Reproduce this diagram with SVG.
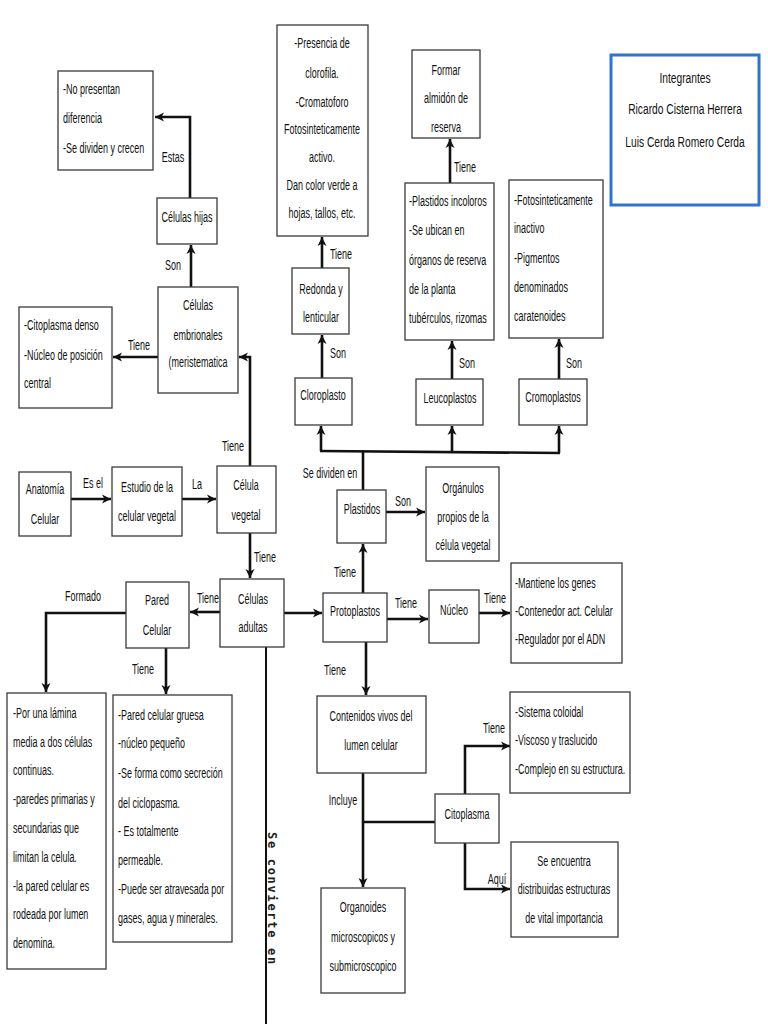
<svg xmlns="http://www.w3.org/2000/svg" width="768" height="1024" viewBox="0 0 768 1024">
<style>
.b{fill:#fff;stroke:#3a3a3a;stroke-width:1.3}
.bi{fill:#fff;stroke:#2f74d0;stroke-width:3}
.c{fill:none;stroke:#111;stroke-width:2.6}
.t{font-family:"Liberation Sans",Arial,sans-serif;font-size:14.5px;fill:#111}
.m{text-anchor:middle}
.v{font-family:"DejaVu Sans Mono","Liberation Mono",monospace;font-size:12px;font-weight:bold;letter-spacing:1.7px;fill:#222}
</style>
<defs>
<marker id="a" markerWidth="12" markerHeight="12" refX="10" refY="6" orient="auto" markerUnits="userSpaceOnUse">
<path d="M1,1.5 L10,6 L1,10.5 L3.5,6 z" fill="#111"/>
</marker>
</defs>
<rect width="768" height="1024" fill="#fff"/>

<g id="connectors">
<path class="c" d="M190,198 V117 H155" marker-end="url(#a)"/>
<path class="c" d="M191,287 V245" marker-end="url(#a)"/>
<path class="c" d="M158,357 H113" marker-end="url(#a)"/>
<path class="c" d="M250,466 V357 H239" marker-end="url(#a)"/>
<path class="c" d="M71,499 H111" marker-end="url(#a)"/>
<path class="c" d="M182,499 H216" marker-end="url(#a)"/>
<path class="c" d="M250,533 V578" marker-end="url(#a)"/>
<path class="c" d="M220,612 H190" marker-end="url(#a)"/>
<path class="c" d="M284,613 H322" marker-end="url(#a)"/>
<path class="c" d="M126,613 H46 V692" marker-end="url(#a)"/>
<path class="c" d="M166,648 V694" marker-end="url(#a)"/>
<path class="c" d="M266,647 V1024" style="stroke-width:2"/>
<path class="c" d="M363,593 V544" marker-end="url(#a)"/>
<path class="c" d="M386,512 H425" marker-end="url(#a)"/>
<path class="c" d="M363,490 V451"/>
<path class="c" d="M320,451 L560,453"/>
<path class="c" d="M321,451 V426" marker-end="url(#a)"/>
<path class="c" d="M452,452 V426" marker-end="url(#a)"/>
<path class="c" d="M559,453 V426" marker-end="url(#a)"/>
<path class="c" d="M322,378 V335" marker-end="url(#a)"/>
<path class="c" d="M322,268 V237" marker-end="url(#a)"/>
<path class="c" d="M452,379 V341" marker-end="url(#a)"/>
<path class="c" d="M450,183 V139" marker-end="url(#a)"/>
<path class="c" d="M559,379 V339" marker-end="url(#a)"/>
<path class="c" d="M387,619 H428" marker-end="url(#a)"/>
<path class="c" d="M479,613 H510" marker-end="url(#a)"/>
<path class="c" d="M366,642 V695" marker-end="url(#a)"/>
<path class="c" d="M363,773 V887" marker-end="url(#a)"/>
<path class="c" d="M363,822 H435"/>
<path class="c" d="M465,794 V746 H510" marker-end="url(#a)"/>
<path class="c" d="M465,843 V889 H510" marker-end="url(#a)"/>
<g class="t m">
<text transform="translate(173,0) scale(.62,1)" x="0" y="162">Estas</text>
<text transform="translate(173,0) scale(.62,1)" x="0" y="270">Son</text>
<text transform="translate(139,0) scale(.62,1)" x="0" y="350">Tiene</text>
<text transform="translate(233,0) scale(.62,1)" x="0" y="451">Tiene</text>
<text transform="translate(93,0) scale(.62,1)" x="0" y="488">Es el</text>
<text transform="translate(197,0) scale(.62,1)" x="0" y="489">La</text>
<text transform="translate(265,0) scale(.62,1)" x="0" y="562">Tiene</text>
<text transform="translate(208,0) scale(.62,1)" x="0" y="603">Tiene</text>
<text transform="translate(83,0) scale(.62,1)" x="0" y="601">Formado</text>
<text transform="translate(143,0) scale(.62,1)" x="0" y="674">Tiene</text>
<text transform="translate(345,0) scale(.62,1)" x="0" y="577">Tiene</text>
<text transform="translate(403,0) scale(.62,1)" x="0" y="506">Son</text>
<text transform="translate(330,0) scale(.62,1)" x="0" y="478">Se dividen en</text>
<text transform="translate(338,0) scale(.62,1)" x="0" y="358">Son</text>
<text transform="translate(341,0) scale(.62,1)" x="0" y="259">Tiene</text>
<text transform="translate(467,0) scale(.62,1)" x="0" y="368">Son</text>
<text transform="translate(465,0) scale(.62,1)" x="0" y="172">Tiene</text>
<text transform="translate(574,0) scale(.62,1)" x="0" y="368">Son</text>
<text transform="translate(406,0) scale(.62,1)" x="0" y="608">Tiene</text>
<text transform="translate(495,0) scale(.62,1)" x="0" y="603">Tiene</text>
<text transform="translate(335,0) scale(.62,1)" x="0" y="675">Tiene</text>
<text transform="translate(343,0) scale(.62,1)" x="0" y="805">Incluye</text>
<text transform="translate(494,0) scale(.62,1)" x="0" y="733">Tiene</text>
<text transform="translate(497,0) scale(.62,1)" x="0" y="884">Aquí</text>
</g>
<text class="v" transform="translate(268,832) rotate(90)">Se convierte en</text>
</g>

<g id="n_nopres"><rect class="b" x="58" y="71" width="95" height="99"/>
<text class="t" transform="translate(63,0) scale(.62,1)"><tspan x="0" y="94">-No presentan</tspan><tspan x="0" y="123">diferencia</tspan><tspan x="0" y="153">-Se dividen y crecen</tspan></text></g>

<g id="n_hijas"><rect class="b" x="157" y="198" width="60" height="46"/>
<text class="t m" transform="translate(187,0) scale(.62,1)"><tspan x="0" y="222">Células hijas</tspan></text></g>

<g id="n_embr"><rect class="b" x="158" y="287" width="80" height="106"/>
<text class="t m" transform="translate(198,0) scale(.62,1)"><tspan x="0" y="310">Células</tspan><tspan x="0" y="340">embrionales</tspan><tspan x="0" y="367">(meristematica</tspan></text></g>

<g id="n_citden"><rect class="b" x="19" y="307" width="93" height="101"/>
<text class="t" transform="translate(24,0) scale(.62,1)"><tspan x="0" y="330">-Citoplasma denso</tspan><tspan x="0" y="360">-Núcleo de posición</tspan><tspan x="0" y="388">central</tspan></text></g>

<g id="n_presencia"><rect class="b" x="277" y="25" width="91" height="211"/>
<text class="t m" transform="translate(322,0) scale(.62,1)"><tspan x="0" y="48">-Presencia de</tspan><tspan x="0" y="78">clorofila.</tspan><tspan x="0" y="107">-Cromatoforo</tspan><tspan x="0" y="134">Fotosinteticamente</tspan><tspan x="0" y="162">activo.</tspan><tspan x="0" y="190">Dan color verde a</tspan><tspan x="0" y="218">hojas, tallos, etc.</tspan></text></g>

<g id="n_formar"><rect class="b" x="412" y="50" width="68" height="88"/>
<text class="t m" transform="translate(446,0) scale(.62,1)"><tspan x="0" y="75">Formar</tspan><tspan x="0" y="103">almidón de</tspan><tspan x="0" y="132">reserva</tspan></text></g>

<g id="n_incol"><rect class="b" x="405" y="183" width="89" height="157"/>
<text class="t" transform="translate(409,0) scale(.62,1)"><tspan x="0" y="206">-Plastidos incoloros</tspan><tspan x="0" y="235">-Se ubican en</tspan><tspan x="0" y="265">órganos de reserva</tspan><tspan x="0" y="294">de la planta</tspan><tspan x="0" y="323">tubérculos, rizomas</tspan></text></g>

<g id="n_fotoin"><rect class="b" x="509" y="180" width="94" height="158"/>
<text class="t" transform="translate(514,0) scale(.62,1)"><tspan x="0" y="205">-Fotosinteticamente</tspan><tspan x="0" y="233">inactivo</tspan><tspan x="0" y="263">-Pigmentos</tspan><tspan x="0" y="292">denominados</tspan><tspan x="0" y="321">caratenoides</tspan></text></g>

<g id="n_integ"><rect class="bi" x="611" y="55" width="148" height="150"/>
<text class="t m" style="font-size:15.5px" transform="translate(685,0) scale(.66,1)"><tspan x="0" y="83">Integrantes</tspan><tspan x="0" y="114">Ricardo Cisterna Herrera</tspan><tspan x="0" y="147">Luis Cerda Romero Cerda</tspan></text></g>

<g id="n_redonda"><rect class="b" x="292" y="268" width="57" height="66"/>
<text class="t m" transform="translate(321,0) scale(.62,1)"><tspan x="0" y="294">Redonda y</tspan><tspan x="0" y="322">lenticular</tspan></text></g>

<g id="n_cloro"><rect class="b" x="295" y="378" width="57" height="47"/>
<text class="t m" transform="translate(323,0) scale(.62,1)"><tspan x="0" y="400">Cloroplasto</tspan></text></g>

<g id="n_leuco"><rect class="b" x="416" y="379" width="67" height="46"/>
<text class="t m" transform="translate(450,0) scale(.62,1)"><tspan x="0" y="403">Leucoplastos</tspan></text></g>

<g id="n_cromo"><rect class="b" x="519" y="379" width="68" height="46"/>
<text class="t m" transform="translate(553,0) scale(.62,1)"><tspan x="0" y="402">Cromoplastos</tspan></text></g>

<g id="n_anat"><rect class="b" x="19" y="472" width="52" height="64"/>
<text class="t m" transform="translate(45,0) scale(.62,1)"><tspan x="0" y="494">Anatomía</tspan><tspan x="0" y="524">Celular</tspan></text></g>

<g id="n_estudio"><rect class="b" x="112" y="467" width="70" height="69"/>
<text class="t m" transform="translate(147,0) scale(.62,1)"><tspan x="0" y="492">Estudio de la</tspan><tspan x="0" y="521">celular vegetal</tspan></text></g>

<g id="n_celveg"><rect class="b" x="217" y="466" width="59" height="67"/>
<text class="t m" transform="translate(246,0) scale(.62,1)"><tspan x="0" y="490">Célula</tspan><tspan x="0" y="520">vegetal</tspan></text></g>

<g id="n_plast"><rect class="b" x="337" y="490" width="49" height="53"/>
<text class="t m" transform="translate(362,0) scale(.62,1)"><tspan x="0" y="514">Plastidos</tspan></text></g>

<g id="n_organ"><rect class="b" x="426" y="467" width="73" height="94"/>
<text class="t m" transform="translate(463,0) scale(.62,1)"><tspan x="0" y="493">Orgánulos</tspan><tspan x="0" y="522">propios de la</tspan><tspan x="0" y="550">célula vegetal</tspan></text></g>

<g id="n_adultas"><rect class="b" x="220" y="579" width="64" height="68"/>
<text class="t m" transform="translate(253,0) scale(.62,1)"><tspan x="0" y="604">Células</tspan><tspan x="0" y="632">adultas</tspan></text></g>

<g id="n_pared"><rect class="b" x="126" y="582" width="63" height="66"/>
<text class="t m" transform="translate(157,0) scale(.62,1)"><tspan x="0" y="605">Pared</tspan><tspan x="0" y="635">Celular</tspan></text></g>

<g id="n_proto"><rect class="b" x="323" y="593" width="64" height="49"/>
<text class="t m" transform="translate(355,0) scale(.62,1)"><tspan x="0" y="616">Protoplastos</tspan></text></g>

<g id="n_nucleo"><rect class="b" x="429" y="590" width="50" height="53"/>
<text class="t m" transform="translate(454,0) scale(.62,1)"><tspan x="0" y="615">Núcleo</tspan></text></g>

<g id="n_mant"><rect class="b" x="511" y="563" width="111" height="100"/>
<text class="t" transform="translate(515,0) scale(.62,1)"><tspan x="0" y="588">-Mantiene los genes</tspan><tspan x="0" y="616">-Contenedor act. Celular</tspan><tspan x="0" y="644">-Regulador por el ADN</tspan></text></g>

<g id="n_conten"><rect class="b" x="317" y="696" width="109" height="77"/>
<text class="t m" transform="translate(371,0) scale(.62,1)"><tspan x="0" y="721">Contenidos vivos del</tspan><tspan x="0" y="750">lumen celular</tspan></text></g>

<g id="n_sistema"><rect class="b" x="510" y="692" width="120" height="101"/>
<text class="t" transform="translate(515,0) scale(.62,1)"><tspan x="0" y="717">-Sistema coloidal</tspan><tspan x="0" y="745">-Viscoso y traslucido</tspan><tspan x="0" y="774">-Complejo en su estructura.</tspan></text></g>

<g id="n_citopl"><rect class="b" x="435" y="794" width="64" height="49"/>
<text class="t m" transform="translate(467,0) scale(.62,1)"><tspan x="0" y="819">Citoplasma</tspan></text></g>

<g id="n_seenc"><rect class="b" x="511" y="842" width="107" height="95"/>
<text class="t m" transform="translate(564,0) scale(.62,1)"><tspan x="0" y="866">Se encuentra</tspan><tspan x="0" y="894">distribuidas estructuras</tspan><tspan x="0" y="923">de vital importancia</tspan></text></g>

<g id="n_organo"><rect class="b" x="321" y="888" width="84" height="105"/>
<text class="t m" transform="translate(363,0) scale(.62,1)"><tspan x="0" y="912">Organoides</tspan><tspan x="0" y="942">microscopicos y</tspan><tspan x="0" y="971">submicroscopico</tspan></text></g>

<g id="n_porlam"><rect class="b" x="7" y="693" width="99" height="276"/>
<text class="t" transform="translate(13,0) scale(.62,1)"><tspan x="0" y="718">-Por una lámina</tspan><tspan x="0" y="747">media a dos células</tspan><tspan x="0" y="775">continuas.</tspan><tspan x="0" y="804">-paredes primarias y</tspan><tspan x="0" y="833">secundarias que</tspan><tspan x="0" y="862">limitan la celula.</tspan><tspan x="0" y="891">-la pared celular es</tspan><tspan x="0" y="919">rodeada por lumen</tspan><tspan x="0" y="948">denomina.</tspan></text></g>

<g id="n_gruesa"><rect class="b" x="113" y="695" width="119" height="247"/>
<text class="t" transform="translate(118,0) scale(.62,1)"><tspan x="0" y="720">-Pared celular gruesa</tspan><tspan x="0" y="748">-núcleo pequeño</tspan><tspan x="0" y="778">-Se forma como secreción</tspan><tspan x="0" y="808">del ciclopasma.</tspan><tspan x="0" y="836">- Es totalmente</tspan><tspan x="0" y="865">permeable.</tspan><tspan x="0" y="894">-Puede ser atravesada por</tspan><tspan x="0" y="923">gases, agua y minerales.</tspan></text></g>
</svg>
